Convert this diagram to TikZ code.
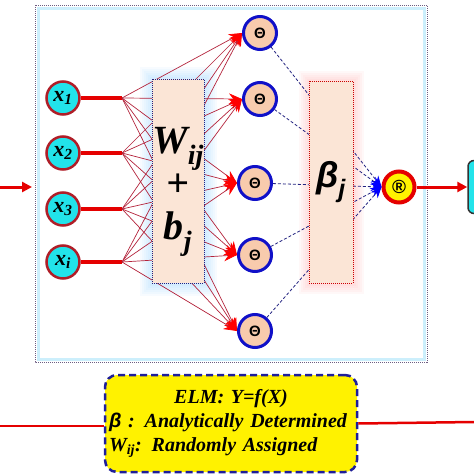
\documentclass[tikz,border=0pt]{standalone}
\usepackage{fontspec}
\setmainfont{Liberation Serif}
\setsansfont{Liberation Sans}
\usetikzlibrary{arrows.meta,calc,backgrounds}
\definecolor{incyan}{HTML}{22E3EA}
\definecolor{indred}{HTML}{B01E28}
\definecolor{peach}{HTML}{F8CBAD}
\definecolor{lightpeach}{HTML}{FBE5D6}
\definecolor{hidblue}{HTML}{1010C8}
\definecolor{navy}{HTML}{232381}
\definecolor{dashnavy}{HTML}{1E1E9A}
\definecolor{linkred}{HTML}{B4243C}
\definecolor{framegray}{HTML}{6E5E82}

\begin{document}
\begin{tikzpicture}[x=1pt,y=-1pt,
    input/.style={circle,draw=indred,line width=2.5pt,fill=incyan,minimum size=33pt,inner sep=0pt,
      font=\fontsize{22}{22}\selectfont\bfseries\itshape},
    hidden/.style={circle,draw=hidblue,line width=3pt,fill=peach,minimum size=33pt,inner sep=0pt,
      font=\sffamily\bfseries\fontsize{15}{15}\selectfont},
    outnode/.style={circle,draw=red!90!black,line width=4pt,fill=yellow,minimum size=31pt,inner sep=0pt,
      font=\sffamily\bfseries\fontsize{19}{19}\selectfont},
    feed/.style={red!90!black,line width=4pt},
    feedthin/.style={red!90!black,line width=2.5pt},
    link/.style={linkred,line width=0.7pt,-{Stealth[length=13pt,width=11pt,color=red]}},
    wlink/.style={navy,line width=0.8pt,densely dashed,-{Stealth[length=11pt,width=9pt,color=blue]}},
    wbox/.style={rectangle,draw=navy,densely dotted,line width=1pt,fill=lightpeach,
      minimum width=52pt,minimum height=204pt,inner sep=0pt,align=center,
      font=\fontsize{40}{43}\selectfont\bfseries\itshape},
    betabox/.style={rectangle,draw=red!80!black,densely dotted,line width=1pt,fill=lightpeach,
      minimum width=44pt,minimum height=202pt,inner sep=0pt,
      font=\sffamily\fontsize{36}{36}\selectfont\bfseries\itshape},
    notebox/.style={rectangle,rounded corners=12pt,draw=dashnavy,line width=2.5pt,
      dash pattern=on 7pt off 4pt,fill=yellow,minimum width=252pt,minimum height=97pt,
      text width=244pt,inner sep=4pt,align=left,
      font=\fontsize{20}{24}\selectfont\bfseries\itshape},
    target/.style={rectangle,rounded corners=6pt,draw=gray!40!black,line width=1.5pt,fill=incyan,
      minimum width=48pt,minimum height=53pt},
    arrowline/.style={red!90!black,line width=3pt,-{Triangle[length=10pt,width=10pt]}},
    netframe/.style={draw=framegray,densely dotted,line width=1pt}]
  \useasboundingbox (0,0) rectangle (474,474);
  \clip (0,0) rectangle (474,474);
  \draw[netframe] (35,5) rectangle (427,362);
  \draw
    (63,98) node[input] (x1){x\textsubscript{1}}
    (63,153) node[input] (x2){x\textsubscript{2}}
    (63,209) node[input] (x3){x\textsubscript{3}}
    (63,262) node[input] (xi){x\textsubscript{i}}
    (260,33) node[hidden] (h1){Θ}
    (260,99) node[hidden] (h2){Θ}
    (255,183) node[hidden] (h3){Θ}
    (255,255) node[hidden] (h4){Θ}
    (255,331) node[hidden] (h5){Θ}
    (399,187) node[outnode] (o){®};
  \coordinate (j1) at (122,98);
  \coordinate (j2) at (122,153);
  \coordinate (j3) at (122,209);
  \coordinate (j4) at (122,262);
  \begin{scope}[feed]
    \draw (x1) -- (j1);
    \draw (x2) -- (j2);
    \draw (x3) -- (j3);
    \draw (xi) -- (j4);
  \end{scope}
  \begin{scope}[link]
    \draw (j1) to (h1.west);
    \draw (j1) to (h2.west);
    \draw (j1) to (h3.west);
    \draw (j1) to (h4.west);
    \draw (j1) to (h5.west);
    \draw (j2) to (h1.west);
    \draw (j2) to (h2.west);
    \draw (j2) to (h3.west);
    \draw (j2) to (h4.west);
    \draw (j2) to (h5.west);
    \draw (j3) to (h1.west);
    \draw (j3) to (h2.west);
    \draw (j3) to (h3.west);
    \draw (j3) to (h4.west);
    \draw (j3) to (h5.west);
    \draw (j4) to (h1.west);
    \draw (j4) to (h2.west);
    \draw (j4) to (h3.west);
    \draw (j4) to (h4.west);
    \draw (j4) to (h5.west);
  \end{scope}
  \begin{scope}[wlink]
    \draw (h1) to (o.west);
    \draw (h2) to (o.west);
    \draw (h3) to (o.west);
    \draw (h4) to (o.west);
    \draw (h5) to (o.west);
  \end{scope}
  % weight and output layers
  \node[wbox] (w) at (178,181) {\rule{0pt}{48pt}W\textsubscript{ij}\\+\\b\textsubscript{j}};
  \node[betabox] (b) at (331,182) {\raisebox{-6pt}{β\textsubscript{j}}};
  \node[target] (tgt) at (492,187) {};
  \coordinate (src) at (0,187);
  \coordinate (entry) at (32,187);
  \draw[arrowline] (src) -- (entry);
  \draw[arrowline] (o) -- (tgt);
  % summary box
  \node[notebox] (note) at (231,423.5) {\makebox[244pt]{ELM: Y=f(X)}\\
    {\sffamily β} : Analytically Determined\\
    W\textsubscript{ij}: Randomly Assigned};
  \coordinate (inl) at (0,426);
  \coordinate (outr) at (474,422);
  \draw[feedthin] (inl) -- (inl -| note.west);
  \draw[feedthin] (note.east) -- (outr);
  \begin{pgfonlayer}{background}
    \fill[white] (0,0) rectangle (474,474);
    \draw[cyan!20,line width=3pt] (38,8) rectangle (424,359);
    \foreach \s in {2,4,...,12}
      \fill[blue!40!cyan!60,opacity=0.05] ($(w.south west)+(-\s,\s)$) rectangle ($(w.north east)+(\s,-\s)$);
    \foreach \s in {2,4,...,10}
      \fill[red!50,opacity=0.05] ($(b.south west)+(-\s,\s)$) rectangle ($(b.north east)+(\s,-\s)$);
  \end{pgfonlayer}
\end{tikzpicture}
\end{document}
